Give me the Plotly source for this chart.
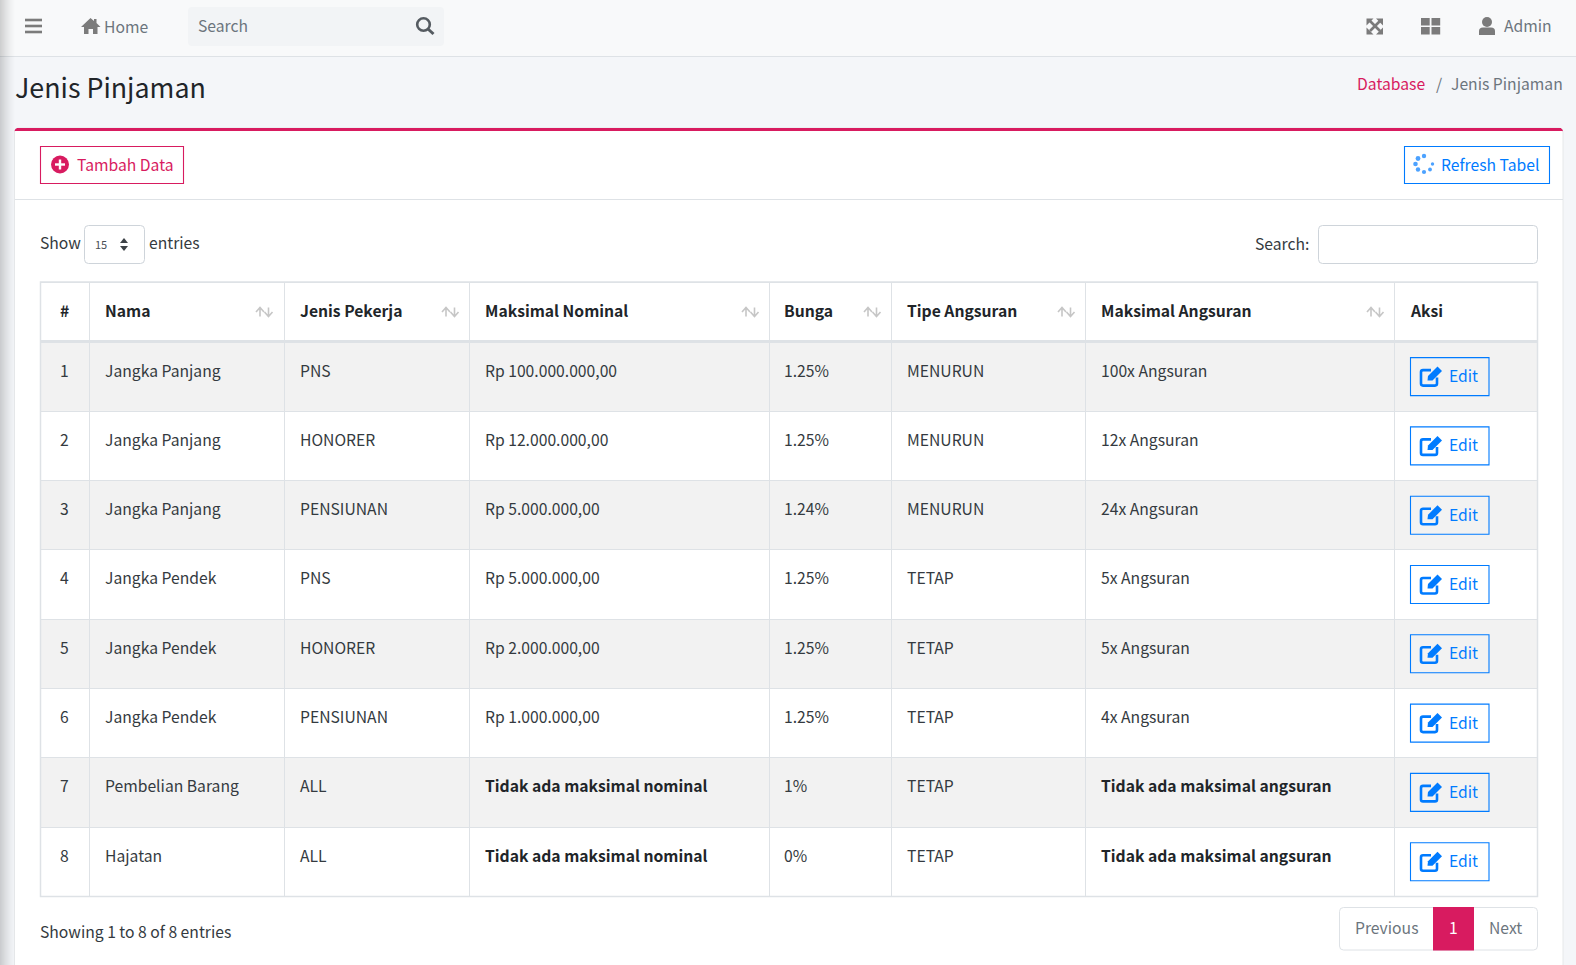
import plotly.graph_objects as go

# table data
nomor = ["1", "2", "3", "4", "5", "6", "7", "8"]
nama = ["Jangka Panjang", "Jangka Panjang", "Jangka Panjang", "Jangka Pendek",
        "Jangka Pendek", "Jangka Pendek", "Pembelian Barang", "Hajatan"]
jenis_pekerja = ["PNS", "HONORER", "PENSIUNAN", "PNS", "HONORER", "PENSIUNAN", "ALL", "ALL"]
maks_nominal = ["Rp 100.000.000,00", "Rp 12.000.000,00", "Rp 5.000.000,00", "Rp 5.000.000,00",
                "Rp 2.000.000,00", "Rp 1.000.000,00",
                "<b>Tidak ada maksimal nominal</b>", "<b>Tidak ada maksimal nominal</b>"]
bunga = ["1.25%", "1.25%", "1.24%", "1.25%", "1.25%", "1.25%", "1%", "0%"]
tipe = ["MENURUN", "MENURUN", "MENURUN", "TETAP", "TETAP", "TETAP", "TETAP", "TETAP"]
maks_angsuran = ["100x Angsuran", "12x Angsuran", "24x Angsuran", "5x Angsuran", "5x Angsuran",
                 "4x Angsuran", "<b>Tidak ada maksimal angsuran</b>", "<b>Tidak ada maksimal angsuran</b>"]
headers = ["#", "Nama", "Jenis Pekerja", "Maksimal Nominal", "Bunga", "Tipe Angsuran", "Maksimal Angsuran", "Aksi"]
col_edges = [40.5, 89.5, 284.5, 469.5, 769, 891.5, 1085.5, 1394.5, 1537.5]

W, H = 1576, 965
FONT = "Noto Sans CJK JP"
BASE = 15.7
PINK = "#d81b60"
BLUE = "#007bff"
GREY = "#6c757d"
DARK = "#212529"
BODY = "#343a40"
LINE = "#dee2e6"
ICON = "#7b7b7b"
HEAD_H = 60
ROW_H = 69.3
TABLE_TOP = 282

shapes = []
notes = []


def text(x, y, s, size=BASE, color=BODY, anchor="left"):
    dx = {"left": -1.5, "right": 1.5, "center": 0}[anchor]
    notes.append(dict(x=x + dx, y=y - 1, xref="x", yref="y", text=s, showarrow=False, xanchor=anchor,
                      yanchor="middle", borderpad=0, font=dict(family=FONT, size=size, color=color)))


def rect(x0, y0, x1, y1, fill="rgba(0,0,0,0)", line=None, width=1, layer="above"):
    shapes.append(dict(type="rect", x0=x0, y0=y0, x1=x1, y1=y1, fillcolor=fill, layer=layer,
                       line=dict(color=line or "rgba(0,0,0,0)", width=width if line else 0)))


def path(p, fill="rgba(0,0,0,0)", line=None, width=1, layer="above"):
    shapes.append(dict(type="path", path=p, fillcolor=fill, layer=layer,
                       line=dict(color=line or "rgba(0,0,0,0)", width=width if line else 0)))


def rrect(x0, y0, x1, y1, r=4, fill="rgba(0,0,0,0)", line=None, width=1, layer="above"):
    p = (f"M{x0+r},{y0} L{x1-r},{y0} Q{x1},{y0} {x1},{y0+r} L{x1},{y1-r} Q{x1},{y1} {x1-r},{y1} "
         f"L{x0+r},{y1} Q{x0},{y1} {x0},{y1-r} L{x0},{y0+r} Q{x0},{y0} {x0+r},{y0} Z")
    path(p, fill, line, width, layer)


def circle(cx, cy, r, fill="rgba(0,0,0,0)", line=None, width=1):
    shapes.append(dict(type="circle", x0=cx-r, y0=cy-r, x1=cx+r, y1=cy+r, fillcolor=fill,
                       line=dict(color=line or "rgba(0,0,0,0)", width=width if line else 0)))


def seg(x0, y0, x1, y1, color, width=1, layer="above"):
    shapes.append(dict(type="line", x0=x0, y0=y0, x1=x1, y1=y1, layer=layer,
                       line=dict(color=color, width=width)))


def sort_arrows(x, y):
    c = "#c6c6c6"
    path(f"M{x},{y+4.5} L{x},{y-4} M{x-4},{y} L{x},{y-4.5} L{x+4},{y}", line=c, width=1.6)
    path(f"M{x+8.5},{y-4.5} L{x+8.5},{y+4} M{x+4.5},{y} L{x+8.5},{y+4.5} L{x+12.5},{y}", line=c, width=1.6)


def edit_button(top):
    rect(1410.5, top, 1489, top + 38, line=BLUE, width=1.1)
    cy = top + 19
    # square with cut-out corner
    path(f"M1431,{cy-6.5} L1423,{cy-6.5} Q1421,{cy-6.5} 1421,{cy-4.5} L1421,{cy+7} Q1421,{cy+9} 1423,{cy+9} "
         f"L1435,{cy+9} Q1437,{cy+9} 1437,{cy+7} L1437,{cy+1}", line=BLUE, width=2.6)
    # pencil
    path(f"M1427.5,{cy+4} L1428,{cy-0.5} L1437.5,{cy-10} L1442,{cy-5.5} L1432.5,{cy+4} Z", fill=BLUE)
    text(1449.5, cy, "Edit", color=BLUE)


# page
rect(0, 0, W, H, fill="#f4f6f9", layer="below")
rect(0, 0, W, 56, fill="#f8f9fa", layer="below")
seg(0, 56.5, W, 56.5, LINE, 1, layer="below")

# navbar
for yy in (20, 26, 32):
    seg(25, yy, 42, yy, ICON, 2.6)
path("M90.5,18 L81,27 L84,27 L84,34 L88.5,34 L88.5,29 L93,29 L93,34 L97.5,34 L97.5,27 L100.5,27 L96.5,23 "
     "L96.5,19 L94,19 L94,21 Z", fill=ICON)
text(104.5, 27.5, "Home", color=GREY)
rrect(188, 7, 444, 46, r=4, fill="#f2f4f6", layer="below")
text(198.5, 26.5, "Search", color=GREY)
circle(423.5, 24.5, 6.3, line="#555b61", width=2.6)
seg(428, 29, 433.5, 34, "#555b61", 3)
# fullscreen icon
seg(1370, 21, 1380, 31, ICON, 2.6)
seg(1380, 21, 1370, 31, ICON, 2.6)
for cx, cy, sx, sy in [(1366.5, 18.5, 1, 1), (1383, 18.5, -1, 1), (1366.5, 34.5, 1, -1), (1383, 34.5, -1, -1)]:
    path(f"M{cx},{cy} L{cx+7*sx},{cy} L{cx},{cy+7*sy} Z", fill=ICON)
for x0, y0 in [(1421, 18), (1431.5, 18), (1421, 27), (1431.5, 27)]:
    rect(x0, y0, x0 + 8.7, y0 + 7.5, fill=ICON)
circle(1487, 22, 5, fill=ICON)
path("M1479,35 L1479,31 Q1479,27.5 1483,27.5 L1491,27.5 Q1495,27.5 1495,31 L1495,35 Z", fill=ICON)
text(1504.5, 26.5, "Admin", color=GREY)

# title row
text(15.5, 87.5, "Jenis Pinjaman", size=26.8, color=DARK)
text(1357, 84.5, "Database", color=PINK)
text(1436, 84.5, "/", color=GREY)
text(1451, 84.5, "Jenis Pinjaman", color=GREY)

# card
rrect(14.5, 128, 1563, 990, r=4, fill="#ffffff", line="#e6e8ea", width=1, layer="below")
path("M14.5,131 L14.5,132 Q14.5,128 18.5,128 L1559,128 Q1563,128 1563,132 L1563,131 Z", fill=PINK, layer="below")
rect(17, 128, 1561, 131, fill=PINK, layer="below")
seg(15, 199.5, 1563, 199.5, LINE, 1, layer="below")

# toolbar buttons
rect(40.5, 146.5, 183.5, 183.5, line=PINK, width=1.1)
circle(60, 164.5, 9, fill=PINK)
seg(55, 164.5, 65, 164.5, "#ffffff", 2.4)
seg(60, 159.5, 60, 169.5, "#ffffff", 2.4)
text(77.5, 165, "Tambah Data", color=PINK)
rect(1404.5, 146.5, 1549.5, 183.5, line=BLUE, width=1.1)
text(1441.5, 165, "Refresh Tabel", color=BLUE)

# datatable controls
text(40, 243.5, "Show")
rrect(84.5, 225.5, 144.5, 263.5, r=4, fill="#ffffff", line="#ced4da")
text(95.5, 245, "15", size=11, color="#495057")
path("M120,243 L124,238 L128,243 Z", fill="#3d4247")
path("M120,246 L124,251 L128,246 Z", fill="#3d4247")
text(149, 243.5, "entries")
text(1308.5, 244, "Search:", anchor="right")
rrect(1318.5, 225.5, 1537.5, 263.5, r=4, fill="#ffffff", line="#ced4da")

# sort arrows, drawn over the header row
for right in [273, 459, 759, 881, 1075, 1384]:
    sort_arrows(right - 13, 312)

# rule below header and outer frame
body_top = TABLE_TOP + HEAD_H
seg(40.5, body_top - 0.5, 1537.5, body_top - 0.5, LINE, 3)
rect(40.5, TABLE_TOP, 1537.5, body_top + ROW_H * len(nomor), line=LINE, width=1.5)

# header and body texts, the plotly table has a fixed cell padding so they sit on top of it
columns = [nomor, nama, jenis_pekerja, maks_nominal, bunga, tipe, maks_angsuran]
for c, h in enumerate(headers):
    if c == 0:
        text((col_edges[0] + col_edges[1]) / 2 - 0.5, 311, "<b>" + h + "</b>", color=DARK, anchor="center")
    else:
        text(col_edges[c] + 15.7, 311, "<b>" + h + "</b>", color=DARK)
for c, col in enumerate(columns):
    for i, v in enumerate(col):
        y = body_top + ROW_H * i + 29
        if c == 0:
            text((col_edges[0] + col_edges[1]) / 2 - 0.5, y, v, anchor="center")
        else:
            text(col_edges[c] + 15.7, y, v, color=DARK if v.startswith("<b>") else BODY)

for i in range(len(nomor)):
    edit_button(body_top + 15.6 + ROW_H * i)

# footer
text(40, 932, "Showing 1 to 8 of 8 entries")
rrect(1339.5, 907.5, 1537.5, 950, r=4, fill="#ffffff", line=LINE)
rect(1433, 907, 1474, 950.5, fill=PINK)
text(1355, 928.5, "Previous", color=GREY)
text(1453.5, 928.5, "1", color="#ffffff", anchor="center")
text(1489, 928.5, "Next", color=GREY)

# sidebar shadow on the left edge
for i in range(15):
    rect(i, 0, i + 1, H, fill=f"rgba(0,0,0,{0.17 * (1 - i / 15) ** 1.4:.3f})")

fig = go.Figure()

# loading spinner dots on the refresh button
fig.add_trace(go.Scatter(x=[1424, 1430, 1432.5, 1430, 1424, 1418, 1415.5, 1418],
                         y=[156, 158.5, 164, 169.5, 172, 169.5, 164, 158.5],
                         mode="markers", hoverinfo="skip", showlegend=False,
                         marker=dict(color=BLUE, size=[4.4, 0, 3.4, 3.8, 4.2, 4.4, 4.6, 4.8], line=dict(width=0))))

widths = [b - a for a, b in zip(col_edges, col_edges[1:])]
stripe = ["#f2f2f2" if i % 2 == 0 else "#ffffff" for i in range(len(nomor))]
blank = [""] * len(nomor)
fig.add_trace(go.Table(
    domain=dict(x=[col_edges[0] / W, col_edges[-1] / W],
                y=[1 - (body_top + ROW_H * len(nomor) + 1) / H, 1 - TABLE_TOP / H]),
    columnwidth=widths,
    header=dict(values=[""] * len(headers), height=HEAD_H,
                fill_color="#ffffff", line=dict(color=LINE, width=1),
                font=dict(family=FONT, size=BASE, color=DARK)),
    cells=dict(values=[blank] * len(headers), height=ROW_H,
               fill_color=[stripe], line=dict(color=LINE, width=1),
               font=dict(family=FONT, size=BASE, color=DARK)),
))

fig.update_layout(
    width=W, height=H, margin=dict(l=0, r=0, t=0, b=0),
    paper_bgcolor="#f4f6f9", plot_bgcolor="rgba(0,0,0,0)",
    xaxis=dict(range=[0, W], visible=False, fixedrange=True, domain=[0, 1]),
    yaxis=dict(range=[H, 0], visible=False, fixedrange=True, domain=[0, 1]),
    shapes=shapes, annotations=notes, showlegend=False,
)
fig.write_html("out.html", config=dict(displayModeBar=False),
               post_script="document.body.style.margin='0';")
